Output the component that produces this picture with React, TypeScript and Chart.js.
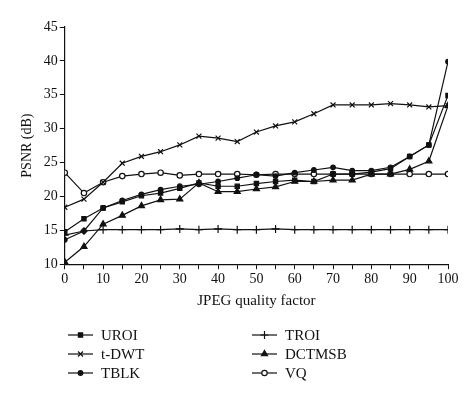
import React, { useEffect, useRef } from "react";
import { Chart, registerables } from "chart.js";
import { drawPoint } from "chart.js/helpers";

Chart.register(...registerables);

const quality = [0, 5, 10, 15, 20, 25, 30, 35, 40, 45, 50, 55, 60, 65, 70, 75, 80, 85, 90, 95, 100];

const uroi = [14.8, 16.7, 18.3, 19.2, 20.1, 20.5, 21.2, 22.0, 21.5, 21.5, 21.9, 22.2, 22.4, 22.2, 23.3, 23.3, 23.6, 24.1, 25.9, 27.6, 34.9];
const tdwt = [18.4, 19.6, 22.1, 24.9, 25.9, 26.6, 27.6, 28.9, 28.6, 28.1, 29.5, 30.4, 31.0, 32.2, 33.5, 33.5, 33.5, 33.7, 33.5, 33.2, 33.4];
const tblk = [13.6, 14.9, 18.3, 19.4, 20.3, 21.0, 21.5, 21.8, 22.2, 22.7, 23.2, 23.0, 23.5, 23.9, 24.3, 23.8, 23.8, 24.3, 25.9, 27.6, 39.9];
const troi = [14.3, 14.9, 15.1, 15.1, 15.1, 15.1, 15.2, 15.1, 15.2, 15.1, 15.1, 15.2, 15.1, 15.1, 15.1, 15.1, 15.1, 15.1, 15.1, 15.1, 15.1];
const dctmsb = [10.3, 12.6, 15.9, 17.2, 18.6, 19.5, 19.6, 22.0, 20.7, 20.7, 21.1, 21.4, 22.2, 22.2, 22.4, 22.4, 23.3, 23.3, 24.0, 25.2, 33.4];
const vq = [23.5, 20.5, 22.1, 23.0, 23.3, 23.5, 23.1, 23.3, 23.3, 23.3, 23.2, 23.3, 23.3, 23.3, 23.3, 23.3, 23.3, 23.3, 23.3, 23.3, 23.3];

const seriesNames = ["UROI", "t-DWT", "TBLK", "TROI", "DCTMSB", "VQ"];
const yTicks = [10, 15, 20, 25, 30, 35, 40, 45];

const INK = "#111";
const FONT = "'Liberation Serif', 'DejaVu Serif', serif";

const styles = [
  { pointStyle: "rect", radius: 3, fill: INK },
  { pointStyle: "crossRot", radius: 3.5, fill: INK },
  { pointStyle: "circle", radius: 2.3, fill: INK },
  { pointStyle: "cross", radius: 4, fill: INK },
  { pointStyle: "triangle", radius: 3.5, fill: INK },
  { pointStyle: "circle", radius: 2.7, fill: "#fff" },
];

const legendPlugin = {
  id: "customLegend",
  afterDraw(chart: any) {
    const ctx = chart.ctx;
    const cols = [68, 252];
    const rows = [335, 354, 373];
    ctx.save();
    ctx.font = `15px ${FONT}`;
    ctx.fillStyle = INK;
    ctx.textBaseline = "middle";
    chart.data.datasets.forEach((ds: any, i: number) => {
      const cx = cols[Math.floor(i / 3)];
      const cy = rows[i % 3];
      ctx.strokeStyle = INK;
      ctx.lineWidth = 1.2;
      ctx.beginPath();
      ctx.moveTo(cx, cy);
      ctx.lineTo(cx + 25, cy);
      ctx.stroke();
      ctx.fillStyle = ds.pointBackgroundColor;
      ctx.strokeStyle = INK;
      ctx.lineWidth = 1.2;
      drawPoint(ctx, { pointStyle: ds.pointStyle, radius: ds.pointRadius, rotation: 0, borderWidth: 1.2 }, cx + 12.5, cy);
      ctx.fillStyle = INK;
      ctx.fillText(ds.label, cx + 33, cy + 1);
    });
    ctx.restore();
  },
};

export default function App() {
  const ref = useRef<HTMLCanvasElement>(null);
  useEffect(() => {
    const allSeries = [uroi, tdwt, tblk, troi, dctmsb, vq];
    const chart = new Chart(ref.current!, {
      type: "line",
      data: {
        datasets: allSeries.map((s, i) => ({
          label: seriesNames[i],
          data: s.map((v, j) => ({ x: quality[j], y: v })),
          borderColor: INK,
          borderWidth: 1.2,
          pointStyle: styles[i].pointStyle as any,
          pointRadius: styles[i].radius,
          pointBackgroundColor: styles[i].fill,
          pointBorderColor: INK,
          pointBorderWidth: 1.2,
          tension: 0,
          fill: false,
        })),
      },
      options: {
        animation: false,
        responsive: false,
        maintainAspectRatio: false,
        layout: { padding: { left: 19, right: 26, top: 27, bottom: 88 } },
        plugins: { legend: { display: false }, tooltip: { enabled: false } },
        scales: {
          x: {
            type: "linear",
            min: 0,
            max: 100,
            grid: { display: true, drawOnChartArea: false, drawTicks: true, tickLength: 5, color: INK, lineWidth: 1 },
            border: { display: true, color: INK, width: 1.2 },
            ticks: {
              stepSize: 5,
              autoSkip: false,
              maxRotation: 0,
              color: INK,
              padding: 2,
              font: { family: FONT, size: 14 },
              callback: (v: any) => (Number(v) % 10 === 0 ? String(v) : ""),
            },
            title: { display: true, text: "JPEG quality factor", color: INK, font: { family: FONT, size: 15 }, padding: { top: 2, bottom: 0 } },
          },
          y: {
            type: "linear",
            min: yTicks[0],
            max: yTicks[yTicks.length - 1],
            afterBuildTicks: (axis: any) => {
              axis.ticks = yTicks.map((v) => ({ value: v }));
            },
            grid: { display: true, drawOnChartArea: false, drawTicks: true, tickLength: 5, color: INK, lineWidth: 1 },
            border: { display: true, color: INK, width: 1.2 },
            ticks: { color: INK, padding: 2, font: { family: FONT, size: 14 } },
            title: { display: true, text: "PSNR (dB)", color: INK, font: { family: FONT, size: 14 }, padding: { top: 0, bottom: 6 } },
          },
        },
      },
      plugins: [legendPlugin],
    });
    return () => chart.destroy();
  }, []);
  return (
    <div style={{ position: "fixed", left: 0, top: 0, width: 474, height: 398, background: "#fff" }}>
      <canvas ref={ref} width={474} height={398} style={{ width: 474, height: 398 }} />
    </div>
  );
}
